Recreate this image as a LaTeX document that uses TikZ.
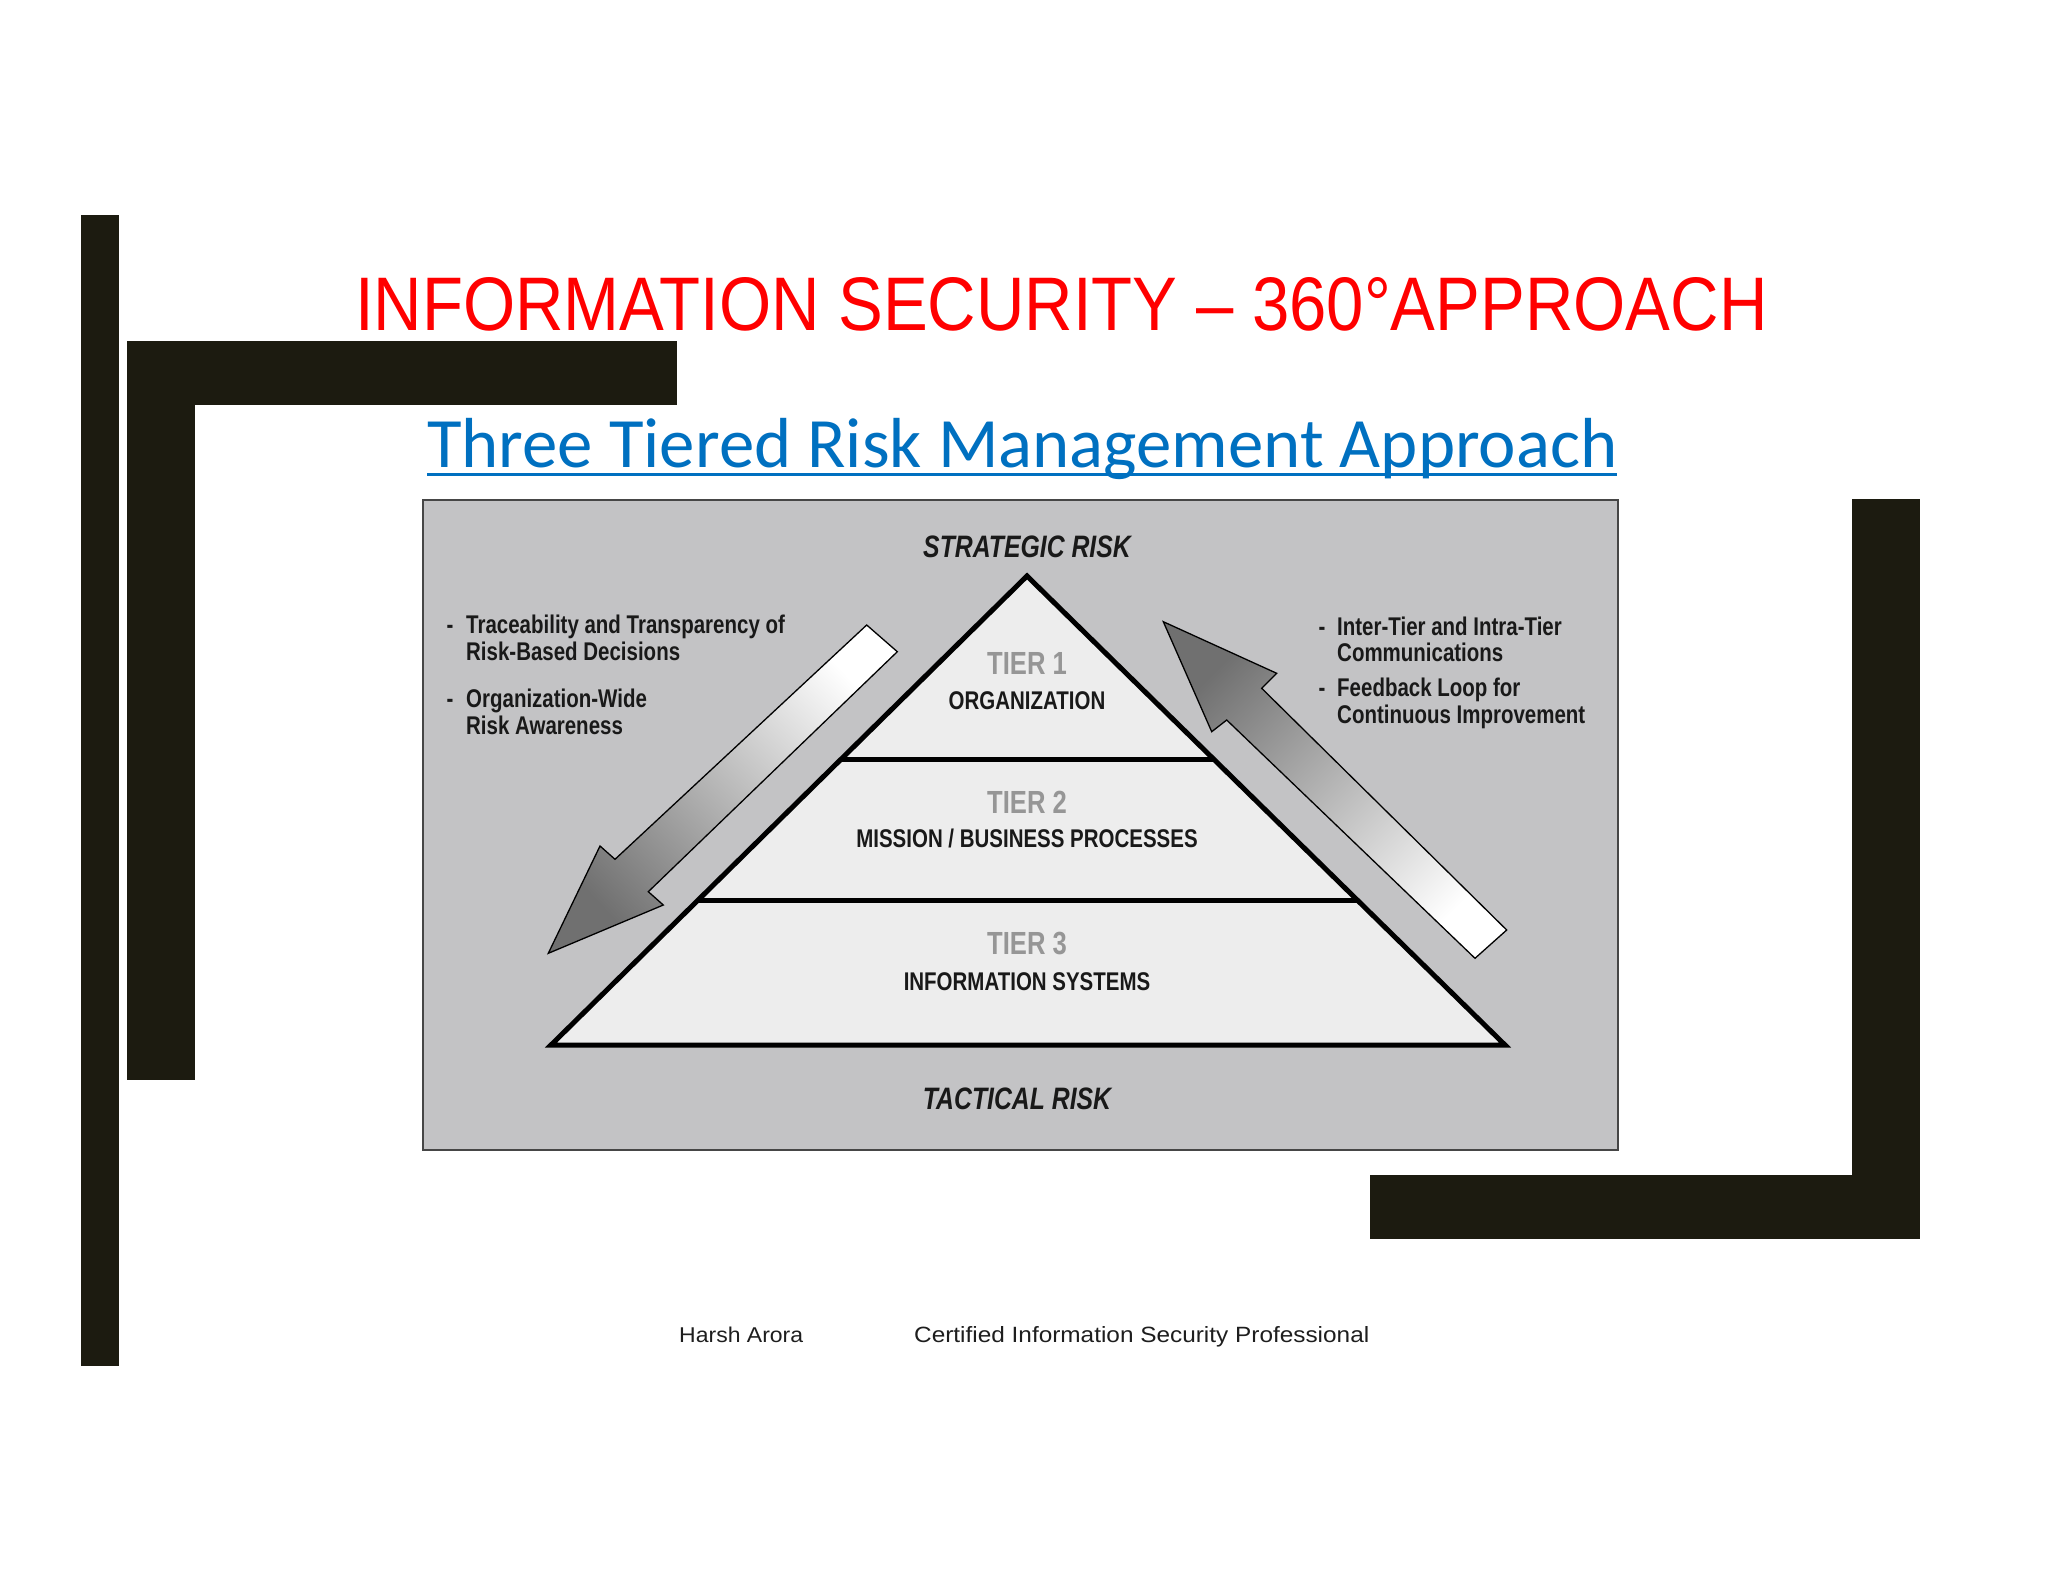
\documentclass[tikz,border=0pt]{standalone}
\usepackage{fontspec}
\usetikzlibrary{calc}
\setmainfont{Liberation Sans}
\newfontfamily\nb[FakeStretch=0.8]{Liberation Sans}
\newfontfamily\subfont{Carlito}
\definecolor{barblack}{RGB}{28,27,16}
\definecolor{boxgray}{RGB}{195,195,197}
\definecolor{boxborder}{RGB}{70,70,70}
\definecolor{pyrfill}{RGB}{237,237,237}
\definecolor{titlered}{RGB}{255,0,0}
\definecolor{subblue}{RGB}{0,112,192}
\definecolor{tiergray}{RGB}{150,150,150}
\definecolor{txt}{RGB}{25,25,25}
\definecolor{footer}{RGB}{30,30,30}
\definecolor{arrowdark}{RGB}{112,112,112}
\definecolor{arrowmid}{RGB}{212,212,212}
\tikzset{
  bar/.style={fill=barblack},
  lab/.style={font=\nb\bfseries\fontsize{25.6}{28}\selectfont, text=txt, inner sep=0pt},
  tierlab/.style={font=\nb\bfseries\fontsize{32}{34}\selectfont, text=tiergray, inner sep=0pt, anchor=base},
  risklab/.style={font=\nb\bfseries\itshape\fontsize{31}{33}\selectfont, text=txt, inner sep=0pt, anchor=base},
  fatarrow/.style={draw=black, line width=1.3pt, line join=miter, top color=white, middle color=arrowmid, bottom color=arrowdark},
}
\begin{document}
\begin{tikzpicture}[x=1pt,y=-1pt]
\fill[white] (0,0) rectangle (2048,1582);
\useasboundingbox (0,0) rectangle (2048,1582);

% decorative bars
\fill[bar] (81,215) rectangle (119,1366);
\fill[bar] (127,341) rectangle (677,405);
\fill[bar] (127,341) rectangle (194.5,1080);
\fill[bar] (1852,498.5) rectangle (1919.5,1238.5);
\fill[bar] (1369.5,1174.5) rectangle (1919.5,1238.5);

% title
\node[anchor=base west, inner sep=0pt, text=titlered] (title) at (355,330)
  {\resizebox{1412pt}{53pt}{\nb INFORMATION SECURITY – 360°APPROACH}};
\node[anchor=base west, inner sep=0pt, text=subblue] (sub) at (427,467)
  {\resizebox{1190pt}{!}{\subfont Three Tiered Risk Management Approach}};
\draw[subblue, line width=3.5pt] ([yshift=-7.5pt]sub.base west) -- ([yshift=-7.5pt]sub.base east);

% grey panel
\draw[draw=boxborder, line width=2pt, fill=boxgray] (423,500) rectangle (1618,1150);

% pyramid
\coordinate (apex) at (1027,576);
\coordinate (bl) at (551,1045);
\coordinate (br) at (1505,1045);
\draw[line width=5pt, fill=pyrfill, line join=miter] (apex) -- (br) -- (bl) -- cycle;
\coordinate (t1l) at ($(apex)!0.3915!(bl)$);
\coordinate (t1r) at ($(apex)!0.3915!(br)$);
\coordinate (t2l) at ($(apex)!0.6915!(bl)$);
\coordinate (t2r) at ($(apex)!0.6915!(br)$);
\draw[line width=4.5pt] (t1l) -- (t1r);
\draw[line width=4.5pt] (t2l) -- (t2r);

% arrows
\shade[fatarrow, shading angle=-47]
  (866.7,625) -- (897.3,651.7) -- (648.3,891.7) -- (663.3,905) -- (548.3,953.3)
  -- (600,846) -- (615,859.3) -- cycle;
\shade[fatarrow, shading angle=-134.6]
  (1163.3,621.7) -- (1276.7,673.3) -- (1261.7,688.3) -- (1506.7,930)
  -- (1475,958.3) -- (1226.7,720) -- (1211.7,731.7) -- cycle;

% pyramid labels
\node[risklab] (strat) at (1027,557) {STRATEGIC RISK};
\node[risklab] (tact) at (1017,1109) {TACTICAL RISK};
\node[tierlab] (tier1) at (1027,674.5) {TIER 1};
\node[lab, anchor=base] (org) at (1027,709) {ORGANIZATION};
\node[tierlab] (tier2) at (1027,813.5) {TIER 2};
\node[lab, anchor=base] (mbp) at (1027,847) {MISSION / BUSINESS PROCESSES};
\node[tierlab] (tier3) at (1027,954.5) {TIER 3};
\node[lab, anchor=base] (isys) at (1027,990) {INFORMATION SYSTEMS};

% left notes
\node[lab, anchor=base] (ld1) at (450,633) {-};
\node[lab, anchor=base west] (l1) at (466,633) {Traceability and Transparency of};
\node[lab, anchor=base west] (l2) at (466,660) {Risk-Based Decisions};
\node[lab, anchor=base] (ld2) at (450,707.5) {-};
\node[lab, anchor=base west] (l3) at (466,707.5) {Organization-Wide};
\node[lab, anchor=base west] (l4) at (466,734) {Risk Awareness};

% right notes
\node[lab, anchor=base] (rd1) at (1322,635) {-};
\node[lab, anchor=base west] (r1) at (1337,635) {Inter-Tier and Intra-Tier};
\node[lab, anchor=base west] (r2) at (1337,661.7) {Communications};
\node[lab, anchor=base] (rd2) at (1322,696.7) {-};
\node[lab, anchor=base west] (r3) at (1337,696.7) {Feedback Loop for};
\node[lab, anchor=base west] (r4) at (1337,723.3) {Continuous Improvement};

% footer
\node[anchor=base west, inner sep=0pt, text=footer] (author) at (679,1342)
  {\resizebox{124pt}{15.5pt}{\nb Harsh Arora}};
\node[anchor=base west, inner sep=0pt, text=footer] (cred) at (914,1342)
  {\resizebox{455pt}{16pt}{\nb Certified Information Security Professional}};
\end{tikzpicture}
\end{document}
